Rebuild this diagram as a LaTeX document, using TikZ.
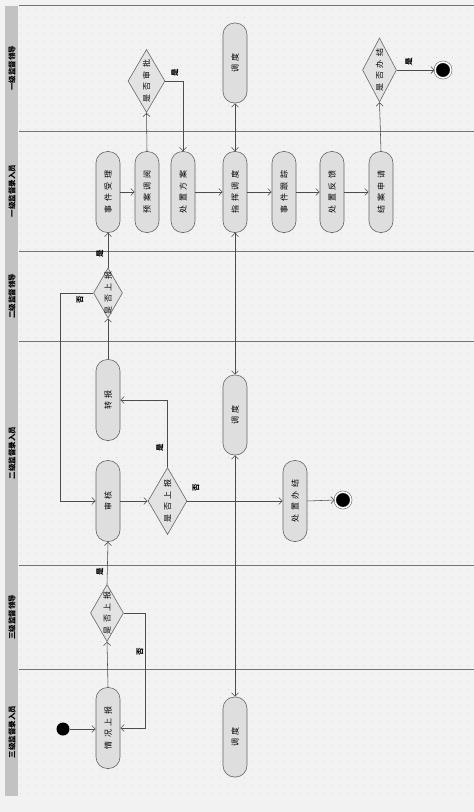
\documentclass[tikz,border=0pt]{standalone}
\usepackage{graphicx}
\usepackage{fontspec}
\newfontfamily\cjk{Noto Sans CJK SC}
\usetikzlibrary{arrows.meta,shapes.geometric}
\newcommand\gs{\hspace{3.6pt}}
\newcommand\vt[1]{\rotatebox{90}{#1}}
\tikzset{
  act/.style={draw=black!60, fill=black!13, rectangle, rounded corners=11.5pt,
    minimum width=24pt, minimum height=81pt, inner sep=0pt, line width=0.6pt,
    font=\cjk\fontsize{8}{8}\selectfont},
  dec/.style={draw=black!60, fill=black!11, diamond, inner sep=0pt, line width=0.6pt},
  dtext/.style={rotate=90, inner sep=0pt, font=\cjk\fontsize{8}{8}\selectfont},
  flow/.style={draw=black!70, line width=0.55pt, -{Straight Barb[length=3.5pt,width=7pt]}},
  biflow/.style={draw=black!70, line width=0.55pt, {Straight Barb[length=3.5pt,width=7pt]}-{Straight Barb[length=3.5pt,width=7pt]}},
  yn/.style={rotate=90, inner sep=0pt, font=\cjk\bfseries\fontsize{7.5}{8}\selectfont},
  lanelbl/.style={rotate=90, inner sep=0pt, font=\cjk\bfseries\fontsize{7.5}{8}\selectfont},
  sep/.style={draw=black!55, line width=0.7pt},
  startdot/.style={circle, fill=black, minimum size=13pt, inner sep=0pt},
  enddot/.style={circle, fill=black, minimum size=16pt, inner sep=0pt, draw=black!65, line width=0.5pt, double=white, double distance=1.5pt},
  gridd/.style={draw=black!16, line width=0.7pt, dash pattern=on 0.7pt off 7.3pt}
}
\begin{document}
\begin{tikzpicture}[x=1pt,y=-1pt]
\useasboundingbox (0,0) rectangle (474,812);
\fill[black!5] (0,0) rectangle (474,812);
\foreach \yy in {9,17,...,797} \draw[gridd] (20,\yy) -- (474,\yy);
% lane strip
\fill[black!24] (5,6) rectangle (18,796);
\draw[black!55, line width=0.6pt] (19,5) -- (474,5);
\foreach \yy in {131,251,341,565,669} \draw[sep] (19,\yy) -- (474,\yy);
\node[lanelbl] (L1) at (12,68) {一级监督领导};
\node[lanelbl] (L2) at (12,191) {一级监督录入员};
\node[lanelbl] (L3) at (12,296) {二级监督领导};
\node[lanelbl] (L4) at (12,453) {二级监督录入员};
\node[lanelbl] (L5) at (12,617) {三级监督领导};
\node[lanelbl] (L6) at (12,732) {三级监督录入员};

% lane 1
\node[dec, minimum width=37pt, minimum height=63pt, label={[dtext]center:是\gs{}否\gs{}审\gs{}批}] (dia1) at (146.5,81) {};
\node[act, minimum height=80pt] (d1) at (235,63) {\vt{调\gs{}度}};
\node[dec, minimum width=34pt, minimum height=64pt, label={[dtext]center:是\gs{}否\gs{}办\gs{}结}] (dia1b) at (379.5,70) {};
\node[enddot] (endtop) at (443,70) {};

% lane 2
\node[act] (accept) at (108,192) {\vt{事\gs{}件\gs{}受\gs{}理}};
\node[act] (yuan) at (147,192) {\vt{预\gs{}案\gs{}调\gs{}阅}};
\node[act] (fang) at (183,192) {\vt{处\gs{}置\gs{}方\gs{}案}};
\node[act] (zhihui) at (235,192) {\vt{指\gs{}挥\gs{}调\gs{}度}};
\node[act] (track) at (284,192) {\vt{事\gs{}件\gs{}跟\gs{}踪}};
\node[act] (fb) at (332,192) {\vt{处\gs{}置\gs{}反\gs{}馈}};
\node[act] (close) at (381,192) {\vt{结\gs{}案\gs{}申\gs{}请}};

% lane 3
\node[dec, minimum width=29pt, minimum height=50pt, label={[dtext]center:是\gs{}否\gs{}上\gs{}报}] (dia3) at (108,293) {};

% lane 4
\node[act] (zhuan) at (108,400) {\vt{转\gs{}报}};
\node[act] (audit) at (108,501) {\vt{审\gs{}核}};
\node[dec, minimum width=39pt, minimum height=67pt, label={[dtext]center:是\gs{}否\gs{}上\gs{}报}] (dia4) at (167.5,501) {};
\node[act, minimum height=80pt] (d4) at (235,415) {\vt{调\gs{}度}};
\node[act] (reply) at (295,501) {\vt{处\gs{}置\gs{}办\gs{}结}};
\node[enddot] (end4) at (343,500) {};

% lane 5
\node[dec, minimum width=33pt, minimum height=57pt, label={[dtext]center:是\gs{}否\gs{}上\gs{}报}] (dia5) at (107,613) {};

% lane 6
\node[startdot] (start) at (63,729) {};
\node[act] (rep) at (108,728) {\vt{情\gs{}况\gs{}上\gs{}报}};
\node[act, minimum height=80pt] (d6) at (235,737) {\vt{调\gs{}度}};

% connectors
\draw[flow] (start.east) -- (rep.west |- start.east);
\draw[flow] (rep.north) -- (dia5.south);
\draw[flow] (dia5.north) -- (audit.south);
\draw[flow] (dia5.east) -- ++(21,0) |- (rep.east);
\draw[flow] (audit.east) -- (dia4.west);
\draw[flow] (dia4.north) |- (zhuan.east);
\draw[flow] (dia4.east) -- (reply.west);
\draw[flow] (reply.east) -- (end4.west);
\draw[flow] (zhuan.north) -- (dia3.south);
\draw[flow] (dia3.north) -- (accept.south);
\draw[flow] (dia3.west) -- ++(-33,0) |- (audit.west);
\draw[flow] (accept.east) -- (yuan.west);
\draw[flow] (yuan.north) -- (dia1.south);
\draw[flow] (dia1.east) -| (fang.north);
\draw[flow] (fang.east) -- (zhihui.west);
\draw[flow] (zhihui.east) -- (track.west);
\draw[flow] (track.east) -- (fb.west);
\draw[flow] (fb.east) -- (close.west);
\draw[flow] (close.north) -- (dia1b.south);
\draw[flow] (dia1b.east) -- (endtop.west);
\draw[biflow] (d1.south) -- (zhihui.north);
\draw[biflow] (zhihui.south) -- (d4.north);
\draw[biflow] (d4.south) -- (d6.north);

% yes / no labels
\node[yn] (y1) at (175,73) {是};
\node[yn] (y1b) at (409,62) {是};
\node[yn] (y3) at (100,254) {是};
\node[yn] (n3) at (80,300) {否};
\node[yn] (y4) at (160,448) {是};
\node[yn] (n4) at (196,488) {否};
\node[yn] (y5) at (100,572) {是};
\node[yn] (n5) at (140,652) {否};
\end{tikzpicture}
\end{document}
